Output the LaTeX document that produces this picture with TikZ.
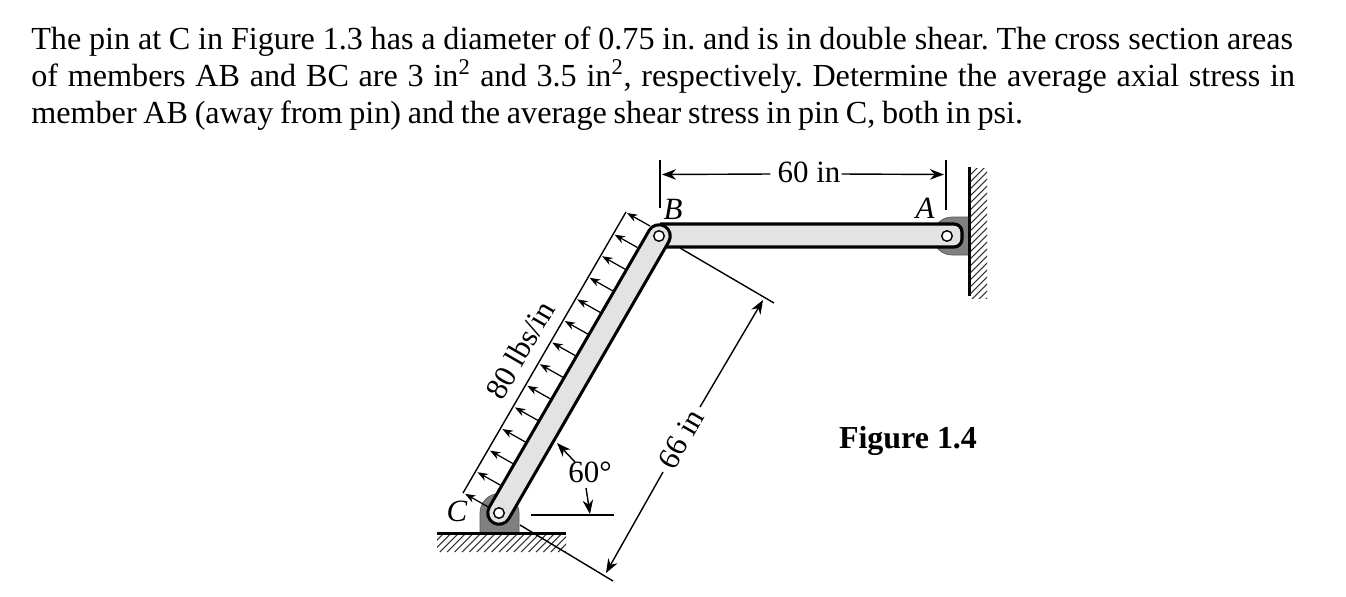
\documentclass[tikz,border=0pt]{standalone}
\usepackage{fontspec}
\setmainfont{Liberation Serif}
\usetikzlibrary{arrows.meta}
\definecolor{barfill}{gray}{0.89}
\definecolor{lugfill}{gray}{0.5}
\frenchspacing
\tikzset{
  dimline/.style={black, line width=0.8pt},
  dimarrow/.style={black, line width=0.8pt, -{Stealth[length=8pt,width=6pt]}},
  loadarrow/.style={black, line width=0.7pt, -{Stealth[length=6pt,width=4.4pt]}},
  hatchline/.style={black!80, line width=0.6pt},
  plate/.style={black, line width=1.7pt},
  para/.style={anchor=base west, font=\fontsize{18.3pt}{21pt}\selectfont, inner sep=0pt},
  dimlabel/.style={font=\fontsize{17.6pt}{20pt}\selectfont, inner sep=0pt},
  pinhole/.style={draw=black, fill=white, line width=0.8pt, circle, inner sep=0pt, minimum size=6pt}
}
\begin{document}
\begin{tikzpicture}[x=0.02cm, y=-0.02cm]
\useasboundingbox (0,0) rectangle (1346,596);
% problem text
\node[para] (line1) at (31,49.5) {\makebox[25.24cm][s]{The pin at C in Figure 1.3 has a diameter of 0.75 in. and is in double shear. The cross section areas}};
\node[para] (line2) at (31,86) {\makebox[25.28cm][s]{of members AB and BC are 3 in\textsuperscript{2} and 3.5 in\textsuperscript{2}, respectively. Determine the average axial stress in}};
\node[para] (line3) at (31,123) {\makebox[19.84cm][s]{member AB (away from pin) and the average shear stress in pin C, both in psi.}};
% supports
\draw[lugfill!70!black, fill=lugfill, line width=0.4pt] (480,533) -- (480,513) arc (180:360:19.5) -- (519,533) -- cycle;
\draw[lugfill!70!black, fill=lugfill, line width=0.4pt] (969,217) -- (952,217) arc (270:90:19) -- (969,255) -- cycle;
\begin{scope}
\clip (437,533) rectangle (566,552);
\foreach \i in {0,...,20}
  \draw[hatchline] ({425+\i*7.4},552) -- ({425+\i*7.4+19},533);
\end{scope}
\begin{scope}
\clip (969,168) rectangle (987,298);
\foreach \i in {0,...,21}
  \draw[hatchline] (969,{176+\i*7}) -- (988,{157+\i*7});
\end{scope}
\draw[plate] (437,533.5) -- (566,533.5);
\draw[plate] (969,167) -- (969,296);
% member AB
\draw[black, line width=1.8pt, fill=barfill] (660,224) -- (954,224) arc (270:360:8) -- (962,239) arc (0:90:8) -- (660,247);
% member BC
\draw[black, line width=14.6pt, line cap=round] (499,513) -- (659,236);
\draw[barfill, line width=11pt, line cap=round] (499,513) -- (659,236);
\node[pinhole] (pinC) at (499,513) {};
\node[pinhole] (pinB) at (659,236) {};
\node[pinhole] (pinA) at (947,236) {};
% distributed load
\draw[dimline] (626,212) -- (463,493);
\foreach \i in {0,...,13}
  \draw[loadarrow] ({650-\i*12.46},{226+\i*21.6}) -- ({627-\i*12.46},{213+\i*21.6});
\node[dimlabel, rotate=60] (loadlabel) at (520,350) {80 lbs/in};
% 60 in dimension
\draw[dimline] (660,160) -- (660,208);
\draw[dimline] (946,160) -- (946,210);
\node[dimlabel] (toplabel) at (809,172) {60 in};
\draw[dimarrow] (toplabel.west) ++(-7,2) -- (662,174.5);
\draw[dimarrow] (toplabel.east) ++(1,2) -- (944,174.5);
% 66 in dimension
\draw[dimline] (680,248) -- (774,303);
\draw[dimline] (520,525) -- (613,581);
\node[dimlabel, rotate=60] (sidelabel) at (681,439) {66 in};
\draw[dimarrow] (700,407) -- (763,300);
\draw[dimarrow] (663,472) -- (606,573);
% angle
\node[dimlabel] (anglelabel) at (590,472) {60°};
\draw[dimarrow] (575,462) -- (557,443);
\draw[dimarrow] (586,488) -- (590,514);
\draw[dimline] (531,515) -- (614,515);
% labels
\node[dimlabel] (labelC) at (457,511) {\textit{C}};
\node[dimlabel] (labelB) at (673,209) {\textit{B}};
\node[dimlabel] (labelA) at (925,208) {\textit{A}};
\node[dimlabel, font=\fontsize{18.2pt}{20pt}\selectfont\bfseries] (figlabel) at (908,441) {Figure 1.4};
\end{tikzpicture}
\end{document}
